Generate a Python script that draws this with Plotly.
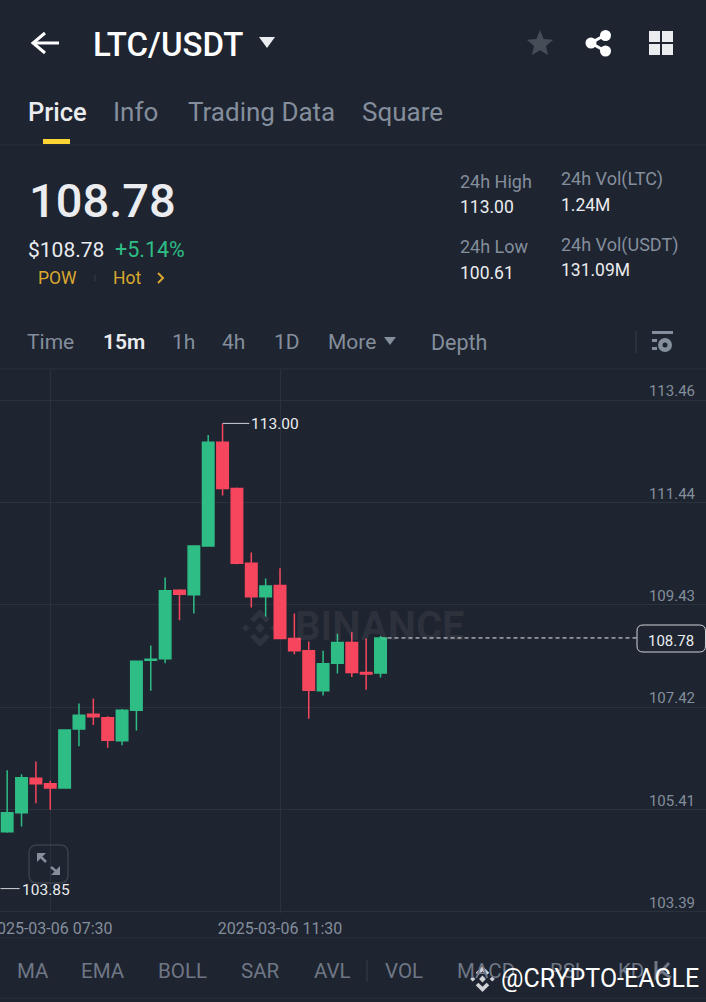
import math
import pandas as pd
import plotly.graph_objects as go

W, H = 706, 1002
BG = '#1e2430'
LINE = '#2c323d'
GRAY = '#848e9c'
WHITE = '#eaecef'
GREEN = '#2ebd85'
RED = '#f6465d'
GOLD = '#d9a82e'
FONT = 'Roboto'

times = pd.date_range('2025-03-06 06:45', periods=27, freq='15min')
opens = [104.97, 105.34, 106.02, 105.91, 105.83, 106.99, 107.28, 107.21, 106.76, 107.36, 108.34, 108.37, 109.72, 109.63,
         110.59, 112.63, 111.72, 110.25, 109.59, 109.81, 108.77, 108.53, 107.74, 108.28, 108.69, 108.10, 108.09]
highs = [106.18, 106.10, 106.35, 105.97, 106.97, 107.49, 107.59, 107.24, 107.38, 108.32, 108.63, 109.97, 109.74, 110.59,
         112.77, 113.00, 111.74, 110.46, 109.95, 110.15, 109.26, 108.71, 108.53, 108.86, 108.89, 108.77, 108.82]
lows = [104.95, 105.07, 105.53, 105.40, 105.83, 106.65, 107.07, 106.62, 106.67, 106.96, 107.74, 108.28, 109.13, 109.26,
        110.59, 111.58, 110.23, 109.38, 109.20, 108.77, 108.46, 107.19, 107.65, 108.08, 108.01, 107.76, 108.00]
closes = [105.34, 106.03, 105.91, 105.83, 106.97, 107.26, 107.23, 106.77, 107.36, 108.32, 108.36, 109.71, 109.64, 110.59,
          112.63, 111.72, 110.25, 109.59, 109.80, 108.77, 108.53, 107.75, 108.27, 108.69, 108.10, 108.07, 108.78]

price_ticks = [113.46, 111.44, 109.43, 107.42, 105.41, 103.39]
time_ticks = ['2025-03-06 07:30', '2025-03-06 11:30']
last_price = 108.78
high_label = 113.00
low_label = 103.85

tabs = ['Price', 'Info', 'Trading Data', 'Square']
intervals = ['Time', '15m', '1h', '4h', '1D', 'More', 'Depth']
indicators = ['MA', 'EMA', 'BOLL', 'SAR', 'AVL', 'VOL', 'MACD', 'RSI', 'KD']


def px(x):
    return x / W


def py(y):
    return 1 - y / H


def poly(points, close=True):
    path = 'M' + ' L'.join(f'{px(x):.5f},{py(y):.5f}' for x, y in points)
    return path + (' Z' if close else '')


fig = go.Figure()
fig.add_trace(go.Candlestick(
    x=times, open=opens, high=highs, low=lows, close=closes,
    increasing=dict(line=dict(color=GREEN, width=1.5), fillcolor=GREEN),
    decreasing=dict(line=dict(color=RED, width=1.5), fillcolor=RED),
    whiskerwidth=0, showlegend=False,
))


def label(text, x, y, size, color=GRAY, anchor='left', weight=400, font=FONT):
    fig.add_annotation(text=text, x=px(x), y=py(y), xref='paper', yref='paper', showarrow=False,
                       xanchor=anchor, yanchor='middle', borderpad=0, borderwidth=0,
                       font=dict(family=font, size=size, color=color, weight=weight))


def fill(points, color, layer='above'):
    fig.add_shape(type='path', path=poly(points), xref='paper', yref='paper',
                  fillcolor=color, line=dict(width=0), layer=layer)


def stroke(points, color, width=2, close=False, layer='above'):
    fig.add_shape(type='path', path=poly(points, close), xref='paper', yref='paper',
                  line=dict(color=color, width=width), layer=layer)


def hline(y, color=LINE, x0=0, x1=W, width=1):
    stroke([(x0, y), (x1, y)], color, width)


def circle(cx, cy, r, color):
    fig.add_shape(type='circle', x0=px(cx - r), x1=px(cx + r), y0=py(cy + r), y1=py(cy - r),
                  xref='paper', yref='paper', fillcolor=color, line=dict(width=0))


def rounded(x0, y0, x1, y1, r, color, width=1):
    path = (f'M{px(x0 + r)},{py(y0)} L{px(x1 - r)},{py(y0)} Q{px(x1)},{py(y0)} {px(x1)},{py(y0 + r)} '
            f'L{px(x1)},{py(y1 - r)} Q{px(x1)},{py(y1)} {px(x1 - r)},{py(y1)} '
            f'L{px(x0 + r)},{py(y1)} Q{px(x0)},{py(y1)} {px(x0)},{py(y1 - r)} '
            f'L{px(x0)},{py(y0 + r)} Q{px(x0)},{py(y0)} {px(x0 + r)},{py(y0)} Z')
    fig.add_shape(type='path', path=path, xref='paper', yref='paper', line=dict(color=color, width=width))


def logo(cx, cy, s, color, layer='above'):
    for dx, r in ((-0.75, 0.2), (0, 0.26), (0.75, 0.2)):
        fill([(cx + dx * s, cy - r * s), (cx + (dx + r) * s, cy), (cx + dx * s, cy + r * s), (cx + (dx - r) * s, cy)],
             color, layer)
    for sign in (-1, 1):
        pts = [(0, 1), (0.52, 0.48), (0.32, 0.28), (0, 0.6), (-0.32, 0.28), (-0.52, 0.48)]
        fill([(cx + a * s, cy + sign * b * s) for a, b in pts], color, layer)


# header
stroke([(33, 43), (59, 43)], '#ffffff', 3)
stroke([(45, 33), (33, 43), (45, 53)], '#ffffff', 3)
label('LTC/USDT', 93, 44, 33, '#ffffff', weight=500)
fill([(259, 37), (275, 37), (267, 48)], WHITE)
star = []
for i in range(10):
    r = 14 if i % 2 == 0 else 6.2
    a = -math.pi / 2 + i * math.pi / 5
    star.append((540 + r * math.cos(a), 44 + r * math.sin(a)))
fill(star, '#474d57')
stroke([(605, 35), (591, 43), (605, 51)], '#ffffff', 3)
circle(605.5, 35.5, 5.5, '#ffffff')
circle(591, 43, 5.5, '#ffffff')
circle(605.5, 51, 5.5, '#ffffff')
for gx, gy in ((649, 31), (662, 31), (649, 44), (662, 44)):
    fill([(gx, gy), (gx + 11, gy), (gx + 11, gy + 11), (gx, gy + 11)], WHITE)

# tabs
for text, x in zip(tabs, [28, 113, 188, 362]):
    label(text, x, 112, 25.5 if text == 'Price' else 26, WHITE if text == 'Price' else GRAY,
          weight=500 if text == 'Price' else 400)
fill([(43, 139), (70, 139), (70, 144), (43, 144)], '#fcd535')
hline(145)

# price block
label('108.78', 29, 201, 47, WHITE, weight=500)
label('$108.78', 28, 250, 21, WHITE)
label('+5.14%', 115, 250, 21.5, GREEN)
label('POW', 38, 278, 17.5, GOLD)
stroke([(95, 275), (95, 281)], '#3a4049', 1)
label('Hot', 113, 278, 17.5, GOLD)
stroke([(158, 273), (163, 278), (158, 283)], GOLD, 2)
label('24h High', 460, 181, 18)
label('113.00', 460, 207, 17.5, WHITE)
label('24h Low', 460, 247, 18)
label('100.61', 460, 273, 17.5, WHITE)
label('24h Vol(LTC)', 561, 179, 18)
label('1.24M', 561, 205, 17.5, WHITE)
label('24h Vol(USDT)', 561, 245, 18)
label('131.09M', 561, 270, 17.5, WHITE)

# interval row
for text, x in zip(intervals, [27, 103, 172, 222, 274, 328, 431]):
    label(text, x, 342, 21.5 if text == 'Depth' else 21, WHITE if text == '15m' else GRAY,
          weight=600 if text == '15m' else 400)
fill([(384, 337), (396, 337), (390, 345)], GRAY)
stroke([(636, 331), (636, 353)], '#3a4049', 1)
fill([(652, 331), (673, 331), (673, 334), (652, 334)], GRAY)
fill([(652, 339), (657, 339), (657, 342), (652, 342)], GRAY)
fill([(652, 347), (657, 347), (657, 350), (652, 350)], GRAY)
circle(665, 345, 7, GRAY)
circle(665, 345, 2.5, BG)
hline(369)

# chart annotations
logo(260, 628, 19, '#2e343f', layer='below')
label('BINANCE', 295, 626, 40, 'rgba(255,255,255,0.07)', weight=700)

t_high = times[15]
fig.add_shape(type='line', x0=t_high, x1=t_high + pd.Timedelta(minutes=28), y0=high_label, y1=high_label,
              line=dict(color='#cfd3d8', width=1))
fig.add_annotation(text=f'{high_label:.2f}', x=t_high + pd.Timedelta(minutes=28), y=high_label, showarrow=False,
                   xanchor='left', yshift=-1, font=dict(family=FONT, size=15.5, color=WHITE))
t_low = times[0] + pd.Timedelta(minutes=13)
fig.add_shape(type='line', x0='2025-03-06 06:38', x1=t_low, y0=low_label, y1=low_label,
              line=dict(color='#cfd3d8', width=1))
fig.add_annotation(text=f'{low_label:.2f}', x=t_low, y=low_label, showarrow=False,
                   xanchor='left', yshift=-1, font=dict(family=FONT, size=15.5, color=WHITE))
fig.add_shape(type='line', x0=times[-1], x1='2025-03-06 17:43', y0=last_price, y1=last_price,
              line=dict(color=WHITE, width=1, dash='4px,3px'), layer='below')
rounded(637, 625, 705.5, 652, 6, '#cfd3d8')
label(f'{last_price:.2f}', 671, 641, 15, WHITE, anchor='center')

# expand button
rounded(29, 845, 68, 883, 8, '#3a4049', 1.5)
fill([(37, 853), (46, 853), (37, 862)], GRAY)
fill([(60, 875), (51, 875), (60, 866)], GRAY)
stroke([(40, 856), (46, 862)], GRAY, 2.5)
stroke([(51, 867), (57, 872)], GRAY, 2.5)

# indicator row
hline(938)
hline(998)
for text, x in zip(indicators, [17, 81, 158, 241, 314, 385, 457, 550, 618]):
    label(text, x, 971, 20.5, '#6f7785')
stroke([(367, 960), (367, 982)], '#3a4049', 1)
stroke([(656, 961), (656, 977), (669, 963)], '#6f7785', 3)
stroke([(661, 971), (671, 978)], '#6f7785', 3)

# repost watermark
logo(482.5, 979, 13, '#d0d2d6')
label('@CRYPTO-EAGLE', 501, 978, 25, '#ffffff')

fig.update_layout(
    width=W, height=H, margin=dict(l=0, r=0, t=0, b=0, autoexpand=False),
    paper_bgcolor=BG, plot_bgcolor=BG, showlegend=False, boxgap=0.2, boxgroupgap=0,
    xaxis=dict(type='date', range=['2025-03-06 06:37:30', '2025-03-06 18:55'], rangeslider=dict(visible=False),
               tickvals=time_ticks, tickformat='%Y-%m-%d %H:%M', showgrid=True, gridcolor=LINE, gridwidth=1,
               zeroline=False, showline=False, ticks='', ticklabelstandoff=4, ticklabeloverflow='allow',
               tickfont=dict(family=FONT, size=16, color=GRAY)),
    yaxis=dict(side='right', domain=[89 / H, 632 / H], range=[103.37, 114.05], tickvals=price_ticks,
               ticktext=[f'{v:.2f}' for v in price_ticks], showgrid=True, gridcolor=LINE, gridwidth=1,
               zeroline=False, showline=False, ticks='', ticklabelposition='inside', ticklabelshift=-9,
               ticklabelstandoff=8, ticklabeloverflow='allow', tickfont=dict(family=FONT, size=15, color=GRAY)),
)

fig.write_html('out.html', config=dict(displayModeBar=False), post_script="document.body.style.margin='0';")
